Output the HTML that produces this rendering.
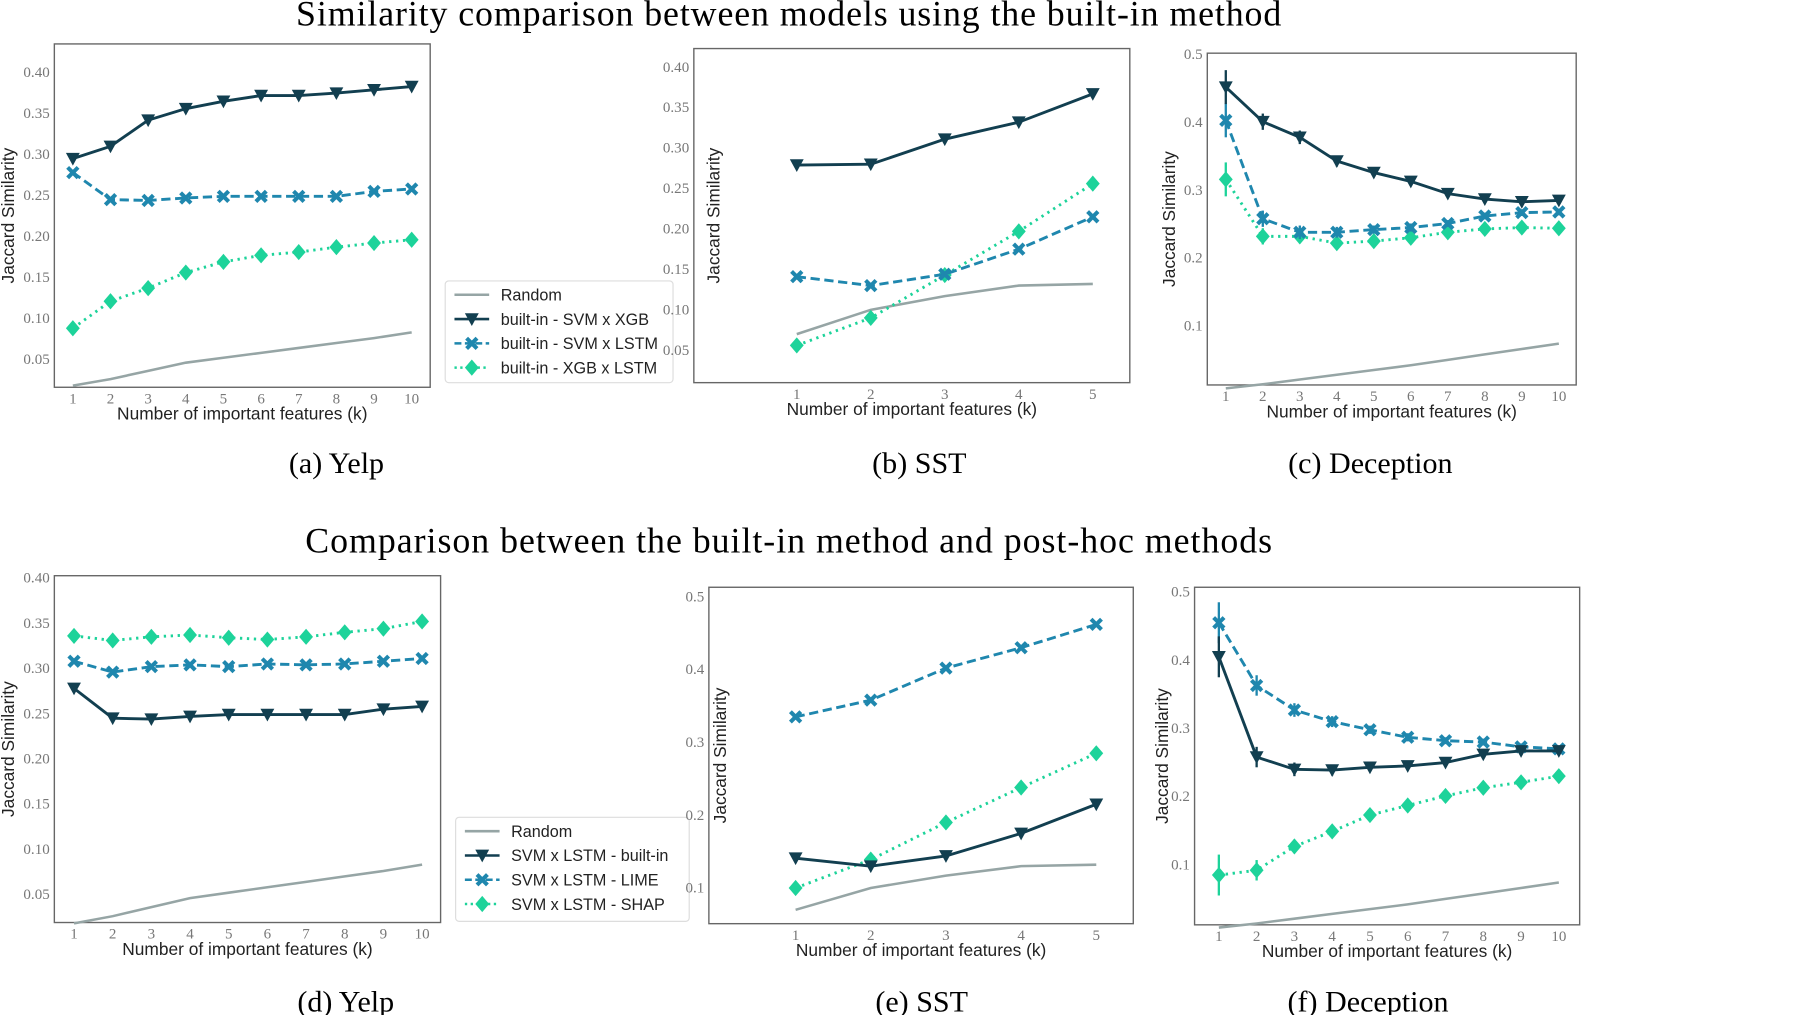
<!DOCTYPE html>
<html><head><meta charset="utf-8"><style>
html,body{margin:0;padding:0;background:#fff;}
svg{display:block;}
.tk{font-family:"Liberation Serif",serif;font-size:13px;fill:#777;}
.al{font-family:"Liberation Sans",sans-serif;font-size:15px;fill:#222;}
.ttl{font-family:"Liberation Serif",serif;font-size:31px;fill:#000;}
.cap{font-family:"Liberation Serif",serif;font-size:26px;fill:#000;}
.lg{font-family:"Liberation Sans",sans-serif;font-size:14px;fill:#222;}
</style></head><body>
<svg id="fig" width="1804" height="1015" viewBox="0 0 1560 878" preserveAspectRatio="none" xmlns="http://www.w3.org/2000/svg">
<text class="ttl" x="682" y="22" text-anchor="middle" textLength="852">Similarity comparison between models using the built-in method</text>
<text class="ttl" x="682" y="478" text-anchor="middle" textLength="836">Comparison between the built-in method and post-hoc methods</text>
</svg>
<script>
const k10=[1,2,3,4,5,6,7,8,9,10];
const k5=[1,2,3,4,5];
const randomYelp=[.018,.026,.036,.046,.052,.058,.064,.070,.076,.083];
const randomSST=[.070,.100,.117,.130,.132];
const randomDec=[.008,.014,.021,.028,.035,.042,.050,.058,.066,.074];
const aSvmXgb=[.295,.31,.342,.356,.365,.372,.372,.375,.379,.383];
const aSvmLstm=[.278,.245,.244,.247,.249,.249,.249,.249,.255,.258];
const aXgbLstm=[.088,.121,.137,.156,.169,.177,.181,.187,.192,.196];
const bSvmXgb=[.279,.280,.311,.332,.367];
const bSvmLstm=[.141,.130,.144,.175,.215];
const bXgbLstm=[.056,.090,.143,.197,.256];
const cSvmXgb=[.452,.401,.378,.343,.326,.313,.295,.287,.283,.285];
const cSvmLstm=[.403,.258,.238,.238,.242,.245,.251,.262,.267,.268];
const cXgbLstm=[.316,.232,.232,.222,.225,.230,.238,.243,.245,.244];
const dBuiltin=[.278,.245,.244,.247,.249,.249,.249,.249,.255,.258];
const dLime=[.308,.296,.302,.304,.302,.305,.304,.305,.308,.311];
const dShap=[.336,.331,.335,.337,.334,.332,.335,.340,.344,.352];
const eBuiltin=[.141,.130,.144,.175,.215];
const eLime=[.335,.358,.402,.430,.462];
const eShap=[.100,.139,.190,.238,.285];
const fBuiltin=[.405,.258,.240,.239,.243,.245,.250,.262,.267,.267];
const fLime=[.455,.363,.327,.310,.298,.287,.282,.280,.273,.270];
const fShap=[.085,.092,.127,.149,.173,.187,.201,.213,.221,.230];
const ticks005=[.05,.10,.15,.20,.25,.30,.35,.40];
const ticks01=[.1,.2,.3,.4,.5];
const errC=[.025,.012,.01,.008,.006,.006,.005,.005,.005,.005];
const errF=[.03,.015,.01,.008,.006,.006,.005,.005,.005,.005];

const NS='http://www.w3.org/2000/svg';
const svg=document.getElementById('fig');
const C={dark:'#123f50',mid:'#1f87ae',green:'#1dd39a',rand:'#96a5a5'};
function mk(tag,attrs,parent){const e=document.createElementNS(NS,tag);for(const k in attrs)e.setAttribute(k,attrs[k]);(parent||svg).appendChild(e);return e;}
function marker(g,type,x,y,col){
  let e;
  if(type==='tri'){e=mk('path',{d:`M${x-6},${y-5}L${x+6},${y-5}L${x},${y+6}Z`,fill:col},g);}
  else if(type==='x'){e=mk('path',{d:`M${x-4.5},${y-4.5}L${x+4.5},${y+4.5}M${x+4.5},${y-4.5}L${x-4.5},${y+4.5}`,stroke:col,'stroke-width':3.5},g);}
  else {e=mk('path',{d:`M${x},${y-7}L${x+6},${y}L${x},${y+7}L${x-6},${y}Z`,fill:col},g);}
  return e;
}
function panel(p){
  const g=mk('g',{});
  
  
  const sx=v=>p.x0+(v-p.xs[0])/(p.xs[p.xs.length-1]-p.xs[0])*(p.x1-p.x0);
  const sy=v=>p.bb-(v-p.ymin)/(p.ymax-p.ymin)*(p.bb-p.bt);
  const box=mk('rect',{x:p.bl,y:p.bt,width:p.br-p.bl,height:p.bb-p.bt,fill:'none',stroke:'#666','stroke-width':1.2},g);
  
  
  p.yt.forEach(v=>{const t=mk('text',{class:'tk',x:p.bl-4,y:sy(v)+4,'text-anchor':'end'},g);t.textContent=p.dec===2?v.toFixed(2):v.toFixed(1);
    });
  p.xs.forEach(v=>{const t=mk('text',{class:'tk',x:sx(v),y:p.bb+14,'text-anchor':'middle'},g);t.textContent=v;
    });
  const xl=mk('text',{class:'al',x:(p.bl+p.br)/2,y:p.bb+28,'text-anchor':'middle'},g);xl.textContent='Number of important features (k)';
  
  const yx=p.ylx,yy=(p.bt+p.bb)/2;
  const yl=mk('text',{class:'al',x:yx,y:yy,'text-anchor':'middle',transform:`rotate(-90 ${yx} ${yy})`},g);yl.textContent='Jaccard Similarity';
  
  const cp=mk('text',{class:'cap',x:p.capx,y:p.capy,'text-anchor':'middle'},g);cp.textContent=p.cap;
  
  p.series.forEach(s=>{
    const pts=s.v.map((v,i)=>sx(p.xs[i])+','+sy(v)).join(' ');
    const dash=s.style==='dash'?'8,4':s.style==='dot'?'2,4':'';
    const l=mk('polyline',{points:pts,fill:'none',stroke:s.col,'stroke-width':s.type?2.5:2.2,'stroke-dasharray':dash},g);
    
    if(s.type){s.v.forEach((v,i)=>{
      if(s.err){const e=s.err[i];const el=mk('line',{x1:sx(p.xs[i]),x2:sx(p.xs[i]),y1:sy(v-e),y2:sy(v+e),stroke:s.col,'stroke-width':2},g);
        }
      const m=marker(g,s.type,sx(p.xs[i]),sy(v),s.col);
      
    });}
  });
  if(p.legend){
    const L=p.legend;
    const lb=mk('rect',{x:L.x,y:L.y,width:L.w,height:L.h,fill:'#fff',stroke:'#ddd',rx:3},g);
    
    [0,3,2,1].forEach((idx,i)=>{
      const s2=p.series[idx];
      const ly=L.y+12+i*21;
      const dash=s2.style==='dash'?'6,3':s2.style==='dot'?'2,3':'';
      mk('line',{x1:L.x+8,x2:L.x+38,y1:ly,y2:ly,stroke:s2.col,'stroke-width':2.2,'stroke-dasharray':dash},g);
      if(s2.type)marker(g,s2.type,L.x+23,ly,s2.col);
      const t=mk('text',{class:'lg',x:L.x+48,y:ly+5},g);t.textContent=s2.label;
      
    });
  }
}
panel({name:'chart-a-yelp',bl:47,br:372,bt:38,bb:335,x0:63,x1:356,xs:k10,ymin:.016,ymax:.435,yt:ticks005,dec:2,ylx:12,cap:'(a) Yelp',capx:291,capy:409,
  series:[{v:randomYelp,col:C.rand,style:'solid',label:'Random'},
  {v:aXgbLstm,col:C.green,style:'dot',type:'dia',label:'built-in - XGB x LSTM'},
  {v:aSvmLstm,col:C.mid,style:'dash',type:'x',label:'built-in - SVM x LSTM'},
  {v:aSvmXgb,col:C.dark,style:'solid',type:'tri',label:'built-in - SVM x XGB'}],
  legend:{x:385,y:243,w:197,h:88}});
panel({name:'chart-b-sst',bl:600,br:977,bt:42,bb:331,x0:689,x1:945,xs:k5,ymin:.01,ymax:.423,yt:ticks005,dec:2,ylx:622,cap:'(b) SST',capx:795,capy:409,
  series:[{v:randomSST,col:C.rand,style:'solid',label:'Random'},
  {v:bXgbLstm,col:C.green,style:'dot',type:'dia',label:'built-in - XGB x LSTM'},
  {v:bSvmLstm,col:C.mid,style:'dash',type:'x',label:'built-in - SVM x LSTM'},
  {v:bSvmXgb,col:C.dark,style:'solid',type:'tri',label:'built-in - SVM x XGB'}]});
panel({name:'chart-c-deception',bl:1044,br:1363,bt:46,bb:333,x0:1060,x1:1348,xs:k10,ymin:.013,ymax:.502,yt:ticks01,dec:1,ylx:1016,cap:'(c) Deception',capx:1185,capy:409,
  series:[{v:randomDec,col:C.rand,style:'solid',label:'Random'},
  {v:cXgbLstm,col:C.green,style:'dot',type:'dia',err:errC,label:'built-in - XGB x LSTM'},
  {v:cSvmLstm,col:C.mid,style:'dash',type:'x',err:errC,label:'built-in - SVM x LSTM'},
  {v:cSvmXgb,col:C.dark,style:'solid',type:'tri',err:errC,label:'built-in - SVM x XGB'}]});
panel({name:'chart-d-yelp',bl:47,br:381,bt:498,bb:798,x0:64,x1:365,xs:k10,ymin:.019,ymax:.4026,yt:ticks005,dec:2,ylx:12,cap:'(d) Yelp',capx:299,capy:875,
  series:[{v:randomYelp,col:C.rand,style:'solid',label:'Random'},
  {v:dShap,col:C.green,style:'dot',type:'dia',label:'SVM x LSTM - SHAP'},
  {v:dLime,col:C.mid,style:'dash',type:'x',label:'SVM x LSTM - LIME'},
  {v:dBuiltin,col:C.dark,style:'solid',type:'tri',label:'SVM x LSTM - built-in'}],
  legend:{x:394,y:707,w:202,h:90}});
panel({name:'chart-e-sst',bl:613,br:980,bt:508,bb:799,x0:688,x1:948,xs:k5,ymin:.051,ymax:.513,yt:ticks01,dec:1,ylx:628,cap:'(e) SST',capx:797,capy:875,
  series:[{v:randomSST,col:C.rand,style:'solid',label:'Random'},
  {v:eShap,col:C.green,style:'dot',type:'dia',label:'SVM x LSTM - SHAP'},
  {v:eLime,col:C.mid,style:'dash',type:'x',label:'SVM x LSTM - LIME'},
  {v:eBuiltin,col:C.dark,style:'solid',type:'tri',label:'SVM x LSTM - built-in'}]});
panel({name:'chart-f-deception',bl:1033,br:1366,bt:508,bb:800,x0:1054,x1:1348,xs:k10,ymin:.012,ymax:.507,yt:ticks01,dec:1,ylx:1010,cap:'(f) Deception',capx:1183,capy:875,
  series:[{v:randomDec,col:C.rand,style:'solid',label:'Random'},
  {v:fShap,col:C.green,style:'dot',type:'dia',err:errF,label:'SVM x LSTM - SHAP'},
  {v:fLime,col:C.mid,style:'dash',type:'x',err:errF,label:'SVM x LSTM - LIME'},
  {v:fBuiltin,col:C.dark,style:'solid',type:'tri',err:errF,label:'SVM x LSTM - built-in'}]});
</script>
</body></html>
